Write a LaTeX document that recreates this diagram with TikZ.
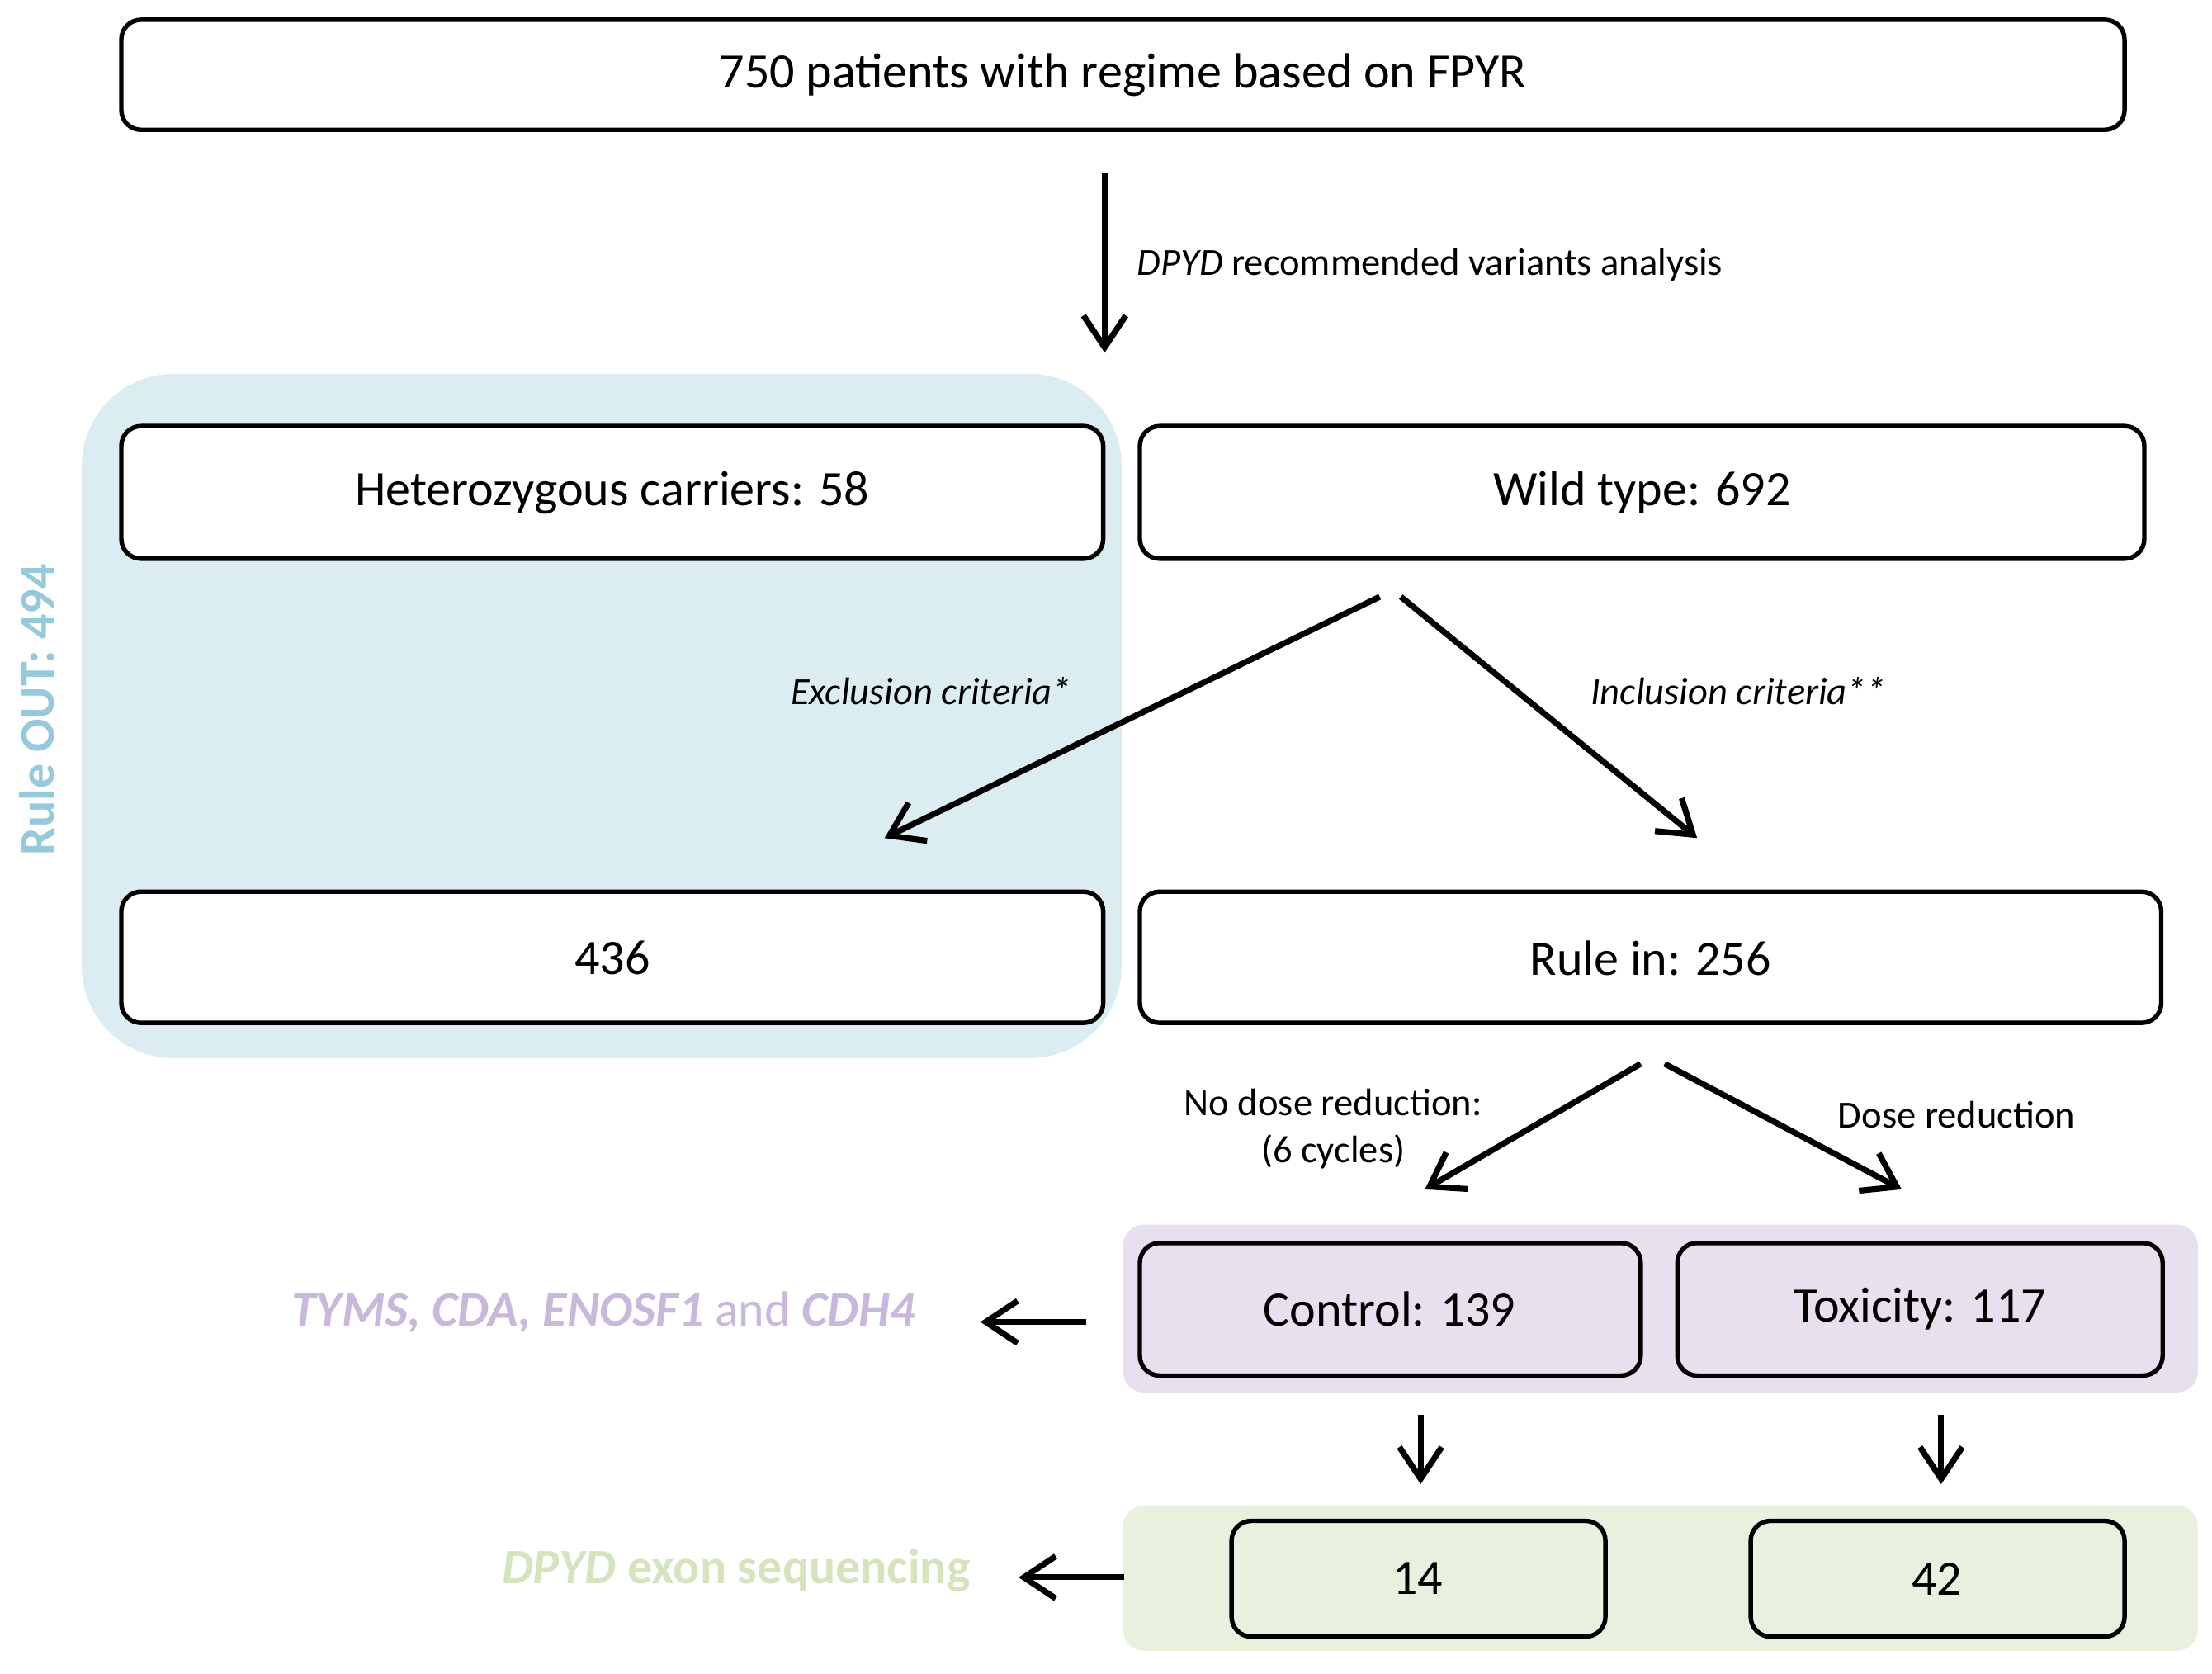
\documentclass[tikz,border=0pt]{standalone}
\usepackage{fontspec}
\setmainfont{Carlito}
\usetikzlibrary{arrows.meta}
\definecolor{bluebg}{RGB}{219,236,242}
\definecolor{bluetx}{RGB}{150,202,218}
\definecolor{purbg}{RGB}{232,224,238}
\definecolor{purtx}{RGB}{200,185,220}
\definecolor{grnbg}{RGB}{232,240,222}
\definecolor{grntx}{RGB}{214,228,190}
\tikzset{
 box/.style={draw,line width=1.8pt,rounded corners=0.28cm},
 arr/.style={line width=2.4pt,-{Straight Barb[length=0.45cm,width=0.6cm,line width=2.4pt]}},
 big/.style={font=\fontsize{20}{24}\selectfont},
 lab/.style={font=\fontsize{15.5}{19}\selectfont}
}
\begin{document}
\begin{tikzpicture}[x=0.02cm,y=-0.02cm]
\useasboundingbox (0,0) rectangle (1568,1186);
% backgrounds
\fill[bluebg,rounded corners=1.3cm] (58,265) rectangle (795,750);
\fill[purbg,rounded corners=0.3cm] (796,868) rectangle (1558,987);
\fill[grnbg,rounded corners=0.3cm] (796,1067) rectangle (1558,1170);
% boxes
\draw[box,fill=white] (86,14) rectangle (1506,92); \node[big] (top) at (796,53) {750 patients with regime based on FPYR};
\coordinate (topb) at (783,122);
\coordinate (mid) at (783,250);
\draw[arr] (topb) -- (mid);
\node[lab,anchor=west] (dl) at (800,188) {\textit{DPYD} recommended variants analysis};
\node[rotate=90,font=\fontsize{20}{24}\selectfont\bfseries,text=bluetx] (ro) at (26,503) {Rule OUT: 494};
\draw[box,fill=white] (86,302) rectangle (782,396); \node[big] (het) at (434,349) {Heterozygous carriers: 58};
\draw[box,fill=white] (808,302) rectangle (1520,396); \node[big] (wt) at (1164,349) {Wild type: 692};
\coordinate (w1) at (978,423); \coordinate (w2) at (993,423);
\coordinate (e1) at (627,594); \coordinate (i1) at (1203,594);
\draw[arr] (w1) -- (e1);
\draw[arr] (w2) -- (i1);
\node[lab,font=\fontsize{15.5}{19}\selectfont\itshape] (ex) at (660,490) {Exclusion criteria*};
\node[lab,font=\fontsize{15.5}{19}\selectfont\itshape] (inc) at (1232,490) {Inclusion criteria**};
\draw[box,fill=white] (86,632) rectangle (782,725); \node[big] (n436) at (434,679) {436};
\draw[box,fill=white] (808,632) rectangle (1532,725); \node[big] (rin) at (1170,679) {Rule in: 256};
\coordinate (r1) at (1163,754); \coordinate (r2) at (1180,754);
\coordinate (c1) at (1010,843); \coordinate (t1) at (1348,843);
\draw[arr] (r1) -- (c1);
\draw[arr] (r2) -- (t1);
\node[lab,align=center] (nd) at (945,800) {No dose reduction:\\(6 cycles)};
\node[lab] (dr) at (1387,790) {Dose reduction};
\draw[box,fill=purbg] (808,881) rectangle (1163,975); \node[big] (ctl) at (985,928) {Control: 139};
\draw[box,fill=purbg] (1189,881) rectangle (1533,975); \node[big] (tox) at (1361,928) {Toxicity: 117};
\node[anchor=east,font=\fontsize{20}{24}\selectfont,text=purtx] (genes) at (655,930) {\textbf{\textit{TYMS, CDA, ENOSF1}} and \textbf{\textit{CDH4}}};
\coordinate (pa) at (770,937); \coordinate (pb) at (695,937);
\draw[arr] (pa) -- (pb);
\coordinate (d1a) at (1007,1003); \coordinate (d1b) at (1007,1052);
\coordinate (d2a) at (1376,1003); \coordinate (d2b) at (1376,1052);
\draw[arr] (d1a) -- (d1b);
\draw[arr] (d2a) -- (d2b);
\draw[box,fill=grnbg] (873,1078) rectangle (1138,1160); \node[big] (n14) at (1005,1119) {14};
\draw[box,fill=grnbg] (1241,1078) rectangle (1506,1160); \node[big] (n42) at (1373,1119) {42};
\node[anchor=east,font=\fontsize{20}{24}\selectfont\bfseries,text=grntx] (seq) at (694,1113) {\textit{DPYD} exon sequencing};
\coordinate (ga) at (797,1118); \coordinate (gb) at (722,1118);
\draw[arr] (ga) -- (gb);
\end{tikzpicture}
\end{document}
